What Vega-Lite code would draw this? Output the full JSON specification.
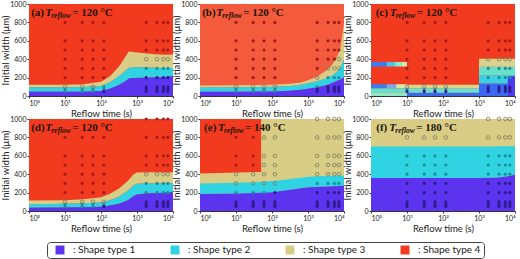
{
  "$schema": "https://vega.github.io/schema/vega-lite/v6.json",
  "background": "white",
  "padding": {"left": 0, "top": 0, "right": 0, "bottom": 0},
  "data": {"values": [{}]},
  "datasets": {
    "bandsA": [
      {"t": 1, "P": 45, "C": 95, "K": 122},
      {"t": 10, "P": 45, "C": 96, "K": 123},
      {"t": 31.6, "P": 47, "C": 98, "K": 127},
      {"t": 100, "P": 55, "C": 110, "K": 155},
      {"t": 177.8, "P": 78, "C": 150, "K": 215},
      {"t": 316.2, "P": 120, "C": 215, "K": 320},
      {"t": 446.7, "P": 155, "C": 265, "K": 410},
      {"t": 562.3, "P": 180, "C": 295, "K": 470},
      {"t": 588.8, "P": 190, "C": 305, "K": 485},
      {"t": 794.3, "P": 197, "C": 312, "K": 478},
      {"t": 1585, "P": 198, "C": 312, "K": 465},
      {"t": 3162, "P": 200, "C": 308, "K": 455},
      {"t": 6310, "P": 206, "C": 305, "K": 448},
      {"t": 10000, "P": 215, "C": 305, "K": 452}
    ],
    "bandsB": [
      {"t": 1, "P": 45, "C": 92, "K": 115},
      {"t": 10, "P": 46, "C": 94, "K": 117},
      {"t": 100, "P": 50, "C": 100, "K": 122},
      {"t": 316.2, "P": 58, "C": 108, "K": 132},
      {"t": 631, "P": 68, "C": 122, "K": 148},
      {"t": 1000, "P": 78, "C": 138, "K": 170},
      {"t": 1778, "P": 95, "C": 160, "K": 210},
      {"t": 3162, "P": 118, "C": 190, "K": 275},
      {"t": 4467, "P": 138, "C": 218, "K": 330},
      {"t": 6310, "P": 162, "C": 262, "K": 420},
      {"t": 7943, "P": 180, "C": 310, "K": 520},
      {"t": 10000, "P": 205, "C": 400, "K": 790}
    ],
    "cellsC": [
      {"x1": 1, "x2": 2.75, "lo": 320, "hi": 370, "s": "c_blue"},
      {"x1": 2.75, "x2": 4.68, "lo": 320, "hi": 370, "s": "c_teal"},
      {"x1": 4.68, "x2": 7.2, "lo": 320, "hi": 370, "s": "c_aqua"},
      {"x1": 7.2, "x2": 10, "lo": 320, "hi": 370, "s": "c_pale"},
      {"x1": 1, "x2": 10, "lo": 0, "hi": 40, "s": "c_aqua"},
      {"x1": 1, "x2": 10, "lo": 40, "hi": 85, "s": "c_aq2"},
      {"x1": 1, "x2": 2.75, "lo": 85, "hi": 128, "s": "c_blue"},
      {"x1": 2.75, "x2": 5, "lo": 85, "hi": 128, "s": "c_lb"},
      {"x1": 5, "x2": 10, "lo": 85, "hi": 128, "s": "c_pale"},
      {"x1": 10, "x2": 1000, "lo": 0, "hi": 36, "s": "c_royal"},
      {"x1": 10, "x2": 1000, "lo": 36, "hi": 85, "s": "c_aq2"},
      {"x1": 10, "x2": 1000, "lo": 85, "hi": 122, "s": "c_kh"},
      {"x1": 1000, "x2": 10000, "lo": 0, "hi": 135, "s": "c_royal"},
      {"x1": 1000, "x2": 10000, "lo": 135, "hi": 225, "s": "c_cyan"},
      {"x1": 1000, "x2": 10000, "lo": 225, "hi": 318, "s": "c_aq2"},
      {"x1": 1000, "x2": 10000, "lo": 318, "hi": 405, "s": "c_kh"},
      {"x1": 6300, "x2": 10000, "lo": 0, "hi": 215, "s": "c_deep"}
    ],
    "bandsD": [
      {"t": 1, "P": 36, "C": 73, "K": 113},
      {"t": 10, "P": 38, "C": 78, "K": 118},
      {"t": 31.6, "P": 42, "C": 84, "K": 128},
      {"t": 100, "P": 47, "C": 93, "K": 150},
      {"t": 177.8, "P": 60, "C": 118, "K": 188},
      {"t": 316.2, "P": 80, "C": 155, "K": 245},
      {"t": 562.3, "P": 118, "C": 222, "K": 330},
      {"t": 794.3, "P": 160, "C": 278, "K": 398},
      {"t": 1000, "P": 180, "C": 296, "K": 418},
      {"t": 1778, "P": 190, "C": 300, "K": 420},
      {"t": 3162, "P": 194, "C": 300, "K": 420},
      {"t": 10000, "P": 205, "C": 302, "K": 420}
    ],
    "bandsE": [
      {"t": 1, "P": 185, "C": 300},
      {"t": 10, "P": 190, "C": 306},
      {"t": 31.6, "P": 195, "C": 312},
      {"t": 100, "P": 205, "C": 325},
      {"t": 177.8, "P": 218, "C": 335},
      {"t": 316.2, "P": 232, "C": 348},
      {"t": 631, "P": 248, "C": 362},
      {"t": 1000, "P": 258, "C": 372},
      {"t": 1778, "P": 262, "C": 378},
      {"t": 3162, "P": 266, "C": 381},
      {"t": 10000, "P": 275, "C": 386}
    ],
    "redE": [
      {"t": 1, "lo": 408, "hi": 1000},
      {"t": 50, "lo": 425, "hi": 1000}
    ],
    "bandsF": [
      {"t": 1, "P": 358, "C": 700},
      {"t": 1000, "P": 360, "C": 700},
      {"t": 2512, "P": 362, "C": 702},
      {"t": 3981, "P": 366, "C": 703},
      {"t": 7079, "P": 380, "C": 704},
      {"t": 10000, "P": 398, "C": 705}
    ],
    "dotsA": [
      {"t":10,"w":800,"k":"r"},{"t":10,"w":600,"k":"r"},{"t":10,"w":500,"k":"r"},{"t":10,"w":400,"k":"r"},{"t":10,"w":300,"k":"r"},{"t":10,"w":200,"k":"r"},{"t":10,"w":100,"k":"h"},{"t":10,"w":75,"k":"c"},{"t":10,"w":50,"k":"c"},
      {"t":30,"w":800,"k":"r"},{"t":30,"w":600,"k":"r"},{"t":30,"w":500,"k":"r"},{"t":30,"w":400,"k":"r"},{"t":30,"w":300,"k":"r"},{"t":30,"w":200,"k":"r"},{"t":30,"w":100,"k":"h"},{"t":30,"w":75,"k":"c"},{"t":30,"w":50,"k":"c"},
      {"t":60,"w":800,"k":"r"},{"t":60,"w":600,"k":"r"},{"t":60,"w":500,"k":"r"},{"t":60,"w":400,"k":"r"},{"t":60,"w":300,"k":"r"},{"t":60,"w":200,"k":"r"},{"t":60,"w":100,"k":"h"},{"t":60,"w":75,"k":"c"},{"t":60,"w":50,"k":"c"},
      {"t":120,"w":800,"k":"r"},{"t":120,"w":600,"k":"r"},{"t":120,"w":500,"k":"r"},{"t":120,"w":400,"k":"r"},{"t":120,"w":300,"k":"r"},{"t":120,"w":200,"k":"r"},{"t":120,"w":100,"k":"c"},{"t":120,"w":75,"k":"c"},{"t":120,"w":50,"k":"p"},
      {"t":1800,"w":800,"k":"r"},{"t":1800,"w":600,"k":"r"},{"t":1800,"w":500,"k":"r"},{"t":1800,"w":400,"k":"h"},{"t":1800,"w":300,"k":"c"},{"t":1800,"w":200,"k":"p"},{"t":1800,"w":100,"k":"p"},{"t":1800,"w":75,"k":"p"},{"t":1800,"w":50,"k":"p"},
      {"t":3600,"w":800,"k":"r"},{"t":3600,"w":600,"k":"r"},{"t":3600,"w":500,"k":"r"},{"t":3600,"w":400,"k":"h"},{"t":3600,"w":300,"k":"c"},{"t":3600,"w":200,"k":"p"},{"t":3600,"w":100,"k":"p"},{"t":3600,"w":75,"k":"p"},{"t":3600,"w":50,"k":"p"},
      {"t":5400,"w":800,"k":"r"},{"t":5400,"w":600,"k":"r"},{"t":5400,"w":500,"k":"r"},{"t":5400,"w":400,"k":"h"},{"t":5400,"w":300,"k":"c"},{"t":5400,"w":200,"k":"p"},{"t":5400,"w":100,"k":"p"},{"t":5400,"w":75,"k":"p"},{"t":5400,"w":50,"k":"p"},
      {"t":7200,"w":800,"k":"r"},{"t":7200,"w":600,"k":"r"},{"t":7200,"w":500,"k":"r"},{"t":7200,"w":400,"k":"h"},{"t":7200,"w":300,"k":"c"},{"t":7200,"w":200,"k":"p"},{"t":7200,"w":100,"k":"p"},{"t":7200,"w":75,"k":"p"},{"t":7200,"w":50,"k":"p"}
    ],
    "dotsB": [
      {"t":10,"w":800,"k":"r"},{"t":10,"w":600,"k":"r"},{"t":10,"w":500,"k":"r"},{"t":10,"w":400,"k":"r"},{"t":10,"w":300,"k":"r"},{"t":10,"w":200,"k":"r"},{"t":10,"w":100,"k":"h"},{"t":10,"w":75,"k":"c"},{"t":10,"w":50,"k":"c"},
      {"t":30,"w":800,"k":"r"},{"t":30,"w":600,"k":"r"},{"t":30,"w":500,"k":"r"},{"t":30,"w":400,"k":"r"},{"t":30,"w":300,"k":"r"},{"t":30,"w":200,"k":"r"},{"t":30,"w":100,"k":"h"},{"t":30,"w":75,"k":"c"},{"t":30,"w":50,"k":"c"},
      {"t":60,"w":800,"k":"r"},{"t":60,"w":600,"k":"r"},{"t":60,"w":500,"k":"r"},{"t":60,"w":400,"k":"r"},{"t":60,"w":300,"k":"r"},{"t":60,"w":200,"k":"r"},{"t":60,"w":100,"k":"h"},{"t":60,"w":75,"k":"c"},{"t":60,"w":50,"k":"c"},
      {"t":120,"w":800,"k":"r"},{"t":120,"w":600,"k":"r"},{"t":120,"w":500,"k":"r"},{"t":120,"w":400,"k":"r"},{"t":120,"w":300,"k":"r"},{"t":120,"w":200,"k":"r"},{"t":120,"w":100,"k":"h"},{"t":120,"w":75,"k":"c"},{"t":120,"w":50,"k":"c"},
      {"t":1800,"w":800,"k":"r"},{"t":1800,"w":600,"k":"r"},{"t":1800,"w":500,"k":"r"},{"t":1800,"w":400,"k":"r"},{"t":1800,"w":300,"k":"r"},{"t":1800,"w":200,"k":"h"},{"t":1800,"w":100,"k":"c"},{"t":1800,"w":75,"k":"p"},{"t":1800,"w":50,"k":"p"},
      {"t":3600,"w":800,"k":"r"},{"t":3600,"w":600,"k":"r"},{"t":3600,"w":500,"k":"r"},{"t":3600,"w":400,"k":"r"},{"t":3600,"w":300,"k":"h"},{"t":3600,"w":200,"k":"c"},{"t":3600,"w":100,"k":"p"},{"t":3600,"w":75,"k":"p"},{"t":3600,"w":50,"k":"p"},
      {"t":5400,"w":800,"k":"r"},{"t":5400,"w":600,"k":"r"},{"t":5400,"w":500,"k":"r"},{"t":5400,"w":400,"k":"r"},{"t":5400,"w":300,"k":"h"},{"t":5400,"w":200,"k":"c"},{"t":5400,"w":100,"k":"p"},{"t":5400,"w":75,"k":"p"},{"t":5400,"w":50,"k":"p"},
      {"t":7200,"w":800,"k":"r"},{"t":7200,"w":600,"k":"r"},{"t":7200,"w":500,"k":"r"},{"t":7200,"w":400,"k":"h"},{"t":7200,"w":300,"k":"h"},{"t":7200,"w":200,"k":"c"},{"t":7200,"w":100,"k":"p"},{"t":7200,"w":75,"k":"p"},{"t":7200,"w":50,"k":"p"}
    ],
    "dotsC": [
      {"t":10,"w":800,"k":"r"},{"t":10,"w":600,"k":"r"},{"t":10,"w":500,"k":"r"},{"t":10,"w":400,"k":"r"},{"t":10,"w":300,"k":"r"},{"t":10,"w":200,"k":"r"},{"t":10,"w":100,"k":"h"},{"t":10,"w":75,"k":"c"},{"t":10,"w":50,"k":"p"},
      {"t":30,"w":800,"k":"r"},{"t":30,"w":600,"k":"r"},{"t":30,"w":500,"k":"r"},{"t":30,"w":400,"k":"r"},{"t":30,"w":300,"k":"r"},{"t":30,"w":200,"k":"r"},{"t":30,"w":100,"k":"h"},{"t":30,"w":75,"k":"c"},{"t":30,"w":50,"k":"p"},
      {"t":60,"w":800,"k":"r"},{"t":60,"w":600,"k":"r"},{"t":60,"w":500,"k":"r"},{"t":60,"w":400,"k":"r"},{"t":60,"w":300,"k":"r"},{"t":60,"w":200,"k":"r"},{"t":60,"w":100,"k":"h"},{"t":60,"w":75,"k":"c"},{"t":60,"w":50,"k":"p"},
      {"t":120,"w":800,"k":"r"},{"t":120,"w":600,"k":"r"},{"t":120,"w":500,"k":"r"},{"t":120,"w":400,"k":"r"},{"t":120,"w":300,"k":"r"},{"t":120,"w":200,"k":"r"},{"t":120,"w":100,"k":"h"},{"t":120,"w":75,"k":"c"},{"t":120,"w":50,"k":"p"},
      {"t":1800,"w":800,"k":"r"},{"t":1800,"w":600,"k":"r"},{"t":1800,"w":500,"k":"r"},{"t":1800,"w":400,"k":"h"},{"t":1800,"w":300,"k":"c"},{"t":1800,"w":200,"k":"c"},{"t":1800,"w":100,"k":"p"},{"t":1800,"w":75,"k":"p"},{"t":1800,"w":50,"k":"p"},
      {"t":3600,"w":800,"k":"r"},{"t":3600,"w":600,"k":"r"},{"t":3600,"w":500,"k":"r"},{"t":3600,"w":400,"k":"h"},{"t":3600,"w":300,"k":"c"},{"t":3600,"w":200,"k":"c"},{"t":3600,"w":100,"k":"p"},{"t":3600,"w":75,"k":"p"},{"t":3600,"w":50,"k":"p"},
      {"t":5400,"w":800,"k":"r"},{"t":5400,"w":600,"k":"r"},{"t":5400,"w":500,"k":"r"},{"t":5400,"w":400,"k":"h"},{"t":5400,"w":300,"k":"c"},{"t":5400,"w":200,"k":"c"},{"t":5400,"w":100,"k":"p"},{"t":5400,"w":75,"k":"p"},{"t":5400,"w":50,"k":"p"},
      {"t":7200,"w":800,"k":"r"},{"t":7200,"w":600,"k":"r"},{"t":7200,"w":500,"k":"r"},{"t":7200,"w":400,"k":"h"},{"t":7200,"w":300,"k":"c"},{"t":7200,"w":200,"k":"c"},{"t":7200,"w":100,"k":"p"},{"t":7200,"w":75,"k":"p"},{"t":7200,"w":50,"k":"p"}
    ],
    "dotsD": [
      {"t":10,"w":800,"k":"r"},{"t":10,"w":600,"k":"r"},{"t":10,"w":500,"k":"r"},{"t":10,"w":400,"k":"r"},{"t":10,"w":300,"k":"r"},{"t":10,"w":200,"k":"r"},{"t":10,"w":100,"k":"h"},{"t":10,"w":75,"k":"c"},{"t":10,"w":50,"k":"c"},
      {"t":30,"w":800,"k":"r"},{"t":30,"w":600,"k":"r"},{"t":30,"w":500,"k":"r"},{"t":30,"w":400,"k":"r"},{"t":30,"w":300,"k":"r"},{"t":30,"w":200,"k":"r"},{"t":30,"w":100,"k":"h"},{"t":30,"w":75,"k":"c"},{"t":30,"w":50,"k":"c"},
      {"t":60,"w":800,"k":"r"},{"t":60,"w":600,"k":"r"},{"t":60,"w":500,"k":"r"},{"t":60,"w":400,"k":"r"},{"t":60,"w":300,"k":"r"},{"t":60,"w":200,"k":"r"},{"t":60,"w":100,"k":"h"},{"t":60,"w":75,"k":"c"},{"t":60,"w":50,"k":"c"},
      {"t":120,"w":800,"k":"r"},{"t":120,"w":600,"k":"r"},{"t":120,"w":500,"k":"r"},{"t":120,"w":400,"k":"r"},{"t":120,"w":300,"k":"r"},{"t":120,"w":200,"k":"r"},{"t":120,"w":100,"k":"h"},{"t":120,"w":75,"k":"c"},{"t":120,"w":50,"k":"p"},
      {"t":1800,"w":1000,"k":"r"},{"t":1800,"w":800,"k":"r"},{"t":1800,"w":600,"k":"r"},{"t":1800,"w":500,"k":"r"},{"t":1800,"w":400,"k":"h"},{"t":1800,"w":300,"k":"c"},{"t":1800,"w":200,"k":"c"},{"t":1800,"w":100,"k":"p"},{"t":1800,"w":75,"k":"p"},{"t":1800,"w":50,"k":"p"},
      {"t":3600,"w":1000,"k":"r"},{"t":3600,"w":800,"k":"r"},{"t":3600,"w":600,"k":"r"},{"t":3600,"w":500,"k":"r"},{"t":3600,"w":400,"k":"h"},{"t":3600,"w":300,"k":"c"},{"t":3600,"w":200,"k":"c"},{"t":3600,"w":100,"k":"p"},{"t":3600,"w":75,"k":"p"},{"t":3600,"w":50,"k":"p"},
      {"t":5400,"w":1000,"k":"r"},{"t":5400,"w":800,"k":"r"},{"t":5400,"w":600,"k":"r"},{"t":5400,"w":500,"k":"r"},{"t":5400,"w":400,"k":"h"},{"t":5400,"w":300,"k":"c"},{"t":5400,"w":200,"k":"c"},{"t":5400,"w":100,"k":"p"},{"t":5400,"w":75,"k":"p"},{"t":5400,"w":50,"k":"p"},
      {"t":7200,"w":1000,"k":"r"},{"t":7200,"w":800,"k":"r"},{"t":7200,"w":600,"k":"r"},{"t":7200,"w":500,"k":"r"},{"t":7200,"w":400,"k":"h"},{"t":7200,"w":300,"k":"c"},{"t":7200,"w":200,"k":"c"},{"t":7200,"w":100,"k":"p"},{"t":7200,"w":75,"k":"p"},{"t":7200,"w":50,"k":"p"}
    ],
    "dotsE": [
      {"t":10,"w":800,"k":"r"},{"t":10,"w":600,"k":"r"},{"t":10,"w":500,"k":"r"},{"t":10,"w":400,"k":"h"},{"t":10,"w":300,"k":"h"},{"t":10,"w":200,"k":"c"},{"t":10,"w":100,"k":"p"},{"t":10,"w":75,"k":"p"},{"t":10,"w":50,"k":"p"},
      {"t":30,"w":800,"k":"r"},{"t":30,"w":600,"k":"r"},{"t":30,"w":500,"k":"r"},{"t":30,"w":400,"k":"h"},{"t":30,"w":300,"k":"h"},{"t":30,"w":200,"k":"c"},{"t":30,"w":100,"k":"p"},{"t":30,"w":75,"k":"p"},{"t":30,"w":50,"k":"p"},
      {"t":60,"w":800,"k":"h"},{"t":60,"w":600,"k":"h"},{"t":60,"w":500,"k":"h"},{"t":60,"w":400,"k":"h"},{"t":60,"w":300,"k":"h"},{"t":60,"w":200,"k":"c"},{"t":60,"w":100,"k":"p"},{"t":60,"w":75,"k":"p"},{"t":60,"w":50,"k":"p"},
      {"t":120,"w":800,"k":"h"},{"t":120,"w":600,"k":"h"},{"t":120,"w":500,"k":"h"},{"t":120,"w":400,"k":"h"},{"t":120,"w":300,"k":"h"},{"t":120,"w":200,"k":"p"},{"t":120,"w":100,"k":"p"},{"t":120,"w":75,"k":"p"},{"t":120,"w":50,"k":"p"},
      {"t":1800,"w":1000,"k":"h"},{"t":1800,"w":800,"k":"h"},{"t":1800,"w":600,"k":"h"},{"t":1800,"w":500,"k":"h"},{"t":1800,"w":400,"k":"h"},{"t":1800,"w":300,"k":"c"},{"t":1800,"w":200,"k":"p"},{"t":1800,"w":100,"k":"p"},{"t":1800,"w":75,"k":"p"},{"t":1800,"w":50,"k":"p"},
      {"t":3600,"w":1000,"k":"h"},{"t":3600,"w":800,"k":"h"},{"t":3600,"w":600,"k":"h"},{"t":3600,"w":500,"k":"h"},{"t":3600,"w":400,"k":"h"},{"t":3600,"w":300,"k":"c"},{"t":3600,"w":200,"k":"p"},{"t":3600,"w":100,"k":"p"},{"t":3600,"w":75,"k":"p"},{"t":3600,"w":50,"k":"p"},
      {"t":5400,"w":1000,"k":"h"},{"t":5400,"w":800,"k":"h"},{"t":5400,"w":600,"k":"h"},{"t":5400,"w":500,"k":"h"},{"t":5400,"w":400,"k":"h"},{"t":5400,"w":300,"k":"c"},{"t":5400,"w":200,"k":"p"},{"t":5400,"w":100,"k":"p"},{"t":5400,"w":75,"k":"p"},{"t":5400,"w":50,"k":"p"},
      {"t":7200,"w":1000,"k":"h"},{"t":7200,"w":800,"k":"h"},{"t":7200,"w":600,"k":"h"},{"t":7200,"w":500,"k":"h"},{"t":7200,"w":400,"k":"h"},{"t":7200,"w":300,"k":"c"},{"t":7200,"w":200,"k":"p"},{"t":7200,"w":100,"k":"p"},{"t":7200,"w":75,"k":"p"},{"t":7200,"w":50,"k":"p"}
    ],
    "dotsF": [
      {"t":10,"w":800,"k":"h"},{"t":10,"w":600,"k":"c"},{"t":10,"w":500,"k":"c"},{"t":10,"w":400,"k":"c"},{"t":10,"w":300,"k":"p"},{"t":10,"w":200,"k":"p"},{"t":10,"w":100,"k":"p"},{"t":10,"w":75,"k":"p"},{"t":10,"w":50,"k":"p"},
      {"t":30,"w":800,"k":"h"},{"t":30,"w":600,"k":"c"},{"t":30,"w":500,"k":"c"},{"t":30,"w":400,"k":"c"},{"t":30,"w":300,"k":"p"},{"t":30,"w":200,"k":"p"},{"t":30,"w":100,"k":"p"},{"t":30,"w":75,"k":"p"},{"t":30,"w":50,"k":"p"},
      {"t":60,"w":800,"k":"h"},{"t":60,"w":600,"k":"c"},{"t":60,"w":500,"k":"c"},{"t":60,"w":400,"k":"c"},{"t":60,"w":300,"k":"p"},{"t":60,"w":200,"k":"p"},{"t":60,"w":100,"k":"p"},{"t":60,"w":75,"k":"p"},{"t":60,"w":50,"k":"p"},
      {"t":120,"w":800,"k":"h"},{"t":120,"w":600,"k":"c"},{"t":120,"w":500,"k":"c"},{"t":120,"w":400,"k":"c"},{"t":120,"w":300,"k":"p"},{"t":120,"w":200,"k":"p"},{"t":120,"w":100,"k":"p"},{"t":120,"w":75,"k":"p"},{"t":120,"w":50,"k":"p"},
      {"t":1800,"w":1000,"k":"h"},{"t":1800,"w":800,"k":"h"},{"t":1800,"w":600,"k":"c"},{"t":1800,"w":500,"k":"c"},{"t":1800,"w":400,"k":"c"},{"t":1800,"w":300,"k":"p"},{"t":1800,"w":200,"k":"p"},{"t":1800,"w":100,"k":"p"},{"t":1800,"w":75,"k":"p"},{"t":1800,"w":50,"k":"p"},
      {"t":3600,"w":1000,"k":"h"},{"t":3600,"w":800,"k":"h"},{"t":3600,"w":600,"k":"c"},{"t":3600,"w":500,"k":"c"},{"t":3600,"w":400,"k":"c"},{"t":3600,"w":300,"k":"p"},{"t":3600,"w":200,"k":"p"},{"t":3600,"w":100,"k":"p"},{"t":3600,"w":75,"k":"p"},{"t":3600,"w":50,"k":"p"},
      {"t":5400,"w":1000,"k":"h"},{"t":5400,"w":800,"k":"h"},{"t":5400,"w":600,"k":"c"},{"t":5400,"w":500,"k":"c"},{"t":5400,"w":400,"k":"c"},{"t":5400,"w":300,"k":"p"},{"t":5400,"w":200,"k":"p"},{"t":5400,"w":100,"k":"p"},{"t":5400,"w":75,"k":"p"},{"t":5400,"w":50,"k":"p"},
      {"t":7200,"w":1000,"k":"h"},{"t":7200,"w":800,"k":"h"},{"t":7200,"w":600,"k":"c"},{"t":7200,"w":500,"k":"c"},{"t":7200,"w":400,"k":"c"},{"t":7200,"w":300,"k":"p"},{"t":7200,"w":200,"k":"p"},{"t":7200,"w":100,"k":"p"},{"t":7200,"w":75,"k":"p"},{"t":7200,"w":50,"k":"p"}
    ]
  },
  "bounds": "flush",
  "columns": 3,
  "spacing": {"row": 23, "column": 27},
  "concat": [
    {
      "width": 144, "height": 92,
      "layer": [
        {"mark": {"type": "rect"},
         "encoding": {
           "x": {"datum": 1, "type": "quantitative", "scale": {"type": "log", "domain": [1, 10000]}, "axis": {"title": "Reflow time (s)", "values": [1, 10, 100, 1000, 10000], "labelExpr": "'10' + ['⁰','¹','²','³','⁴'][round(log(datum.value)/LN10)]"}},
           "x2": {"datum": 10000},
           "y": {"datum": 0, "type": "quantitative", "scale": {"domain": [0, 1000], "nice": false}, "axis": {"title": "Initial width (μm)", "values": [0, 200, 400, 600, 800, 1000], "tickCount": 6, "format": "d", "labelOverlap": false}},
           "y2": {"datum": 1000},
           "color": {"datum": "Shape type 4", "type": "nominal",
             "scale": {
               "domain": ["Shape type 1", "Shape type 2", "Shape type 3", "Shape type 4", "b4", "c_blue", "c_teal", "c_aqua", "c_pale", "c_lb", "c_aq2", "c_kh", "c_royal", "c_cyan", "c_deep", "r", "c", "p"],
               "range": ["#5c34f0", "#2fd3e2", "#d9cd85", "#f23b1e", "#f45a3c", "#3d7cf0", "#4cc4e0", "#8ce8c8", "#dde6a6", "#7aa8ec", "#66e2cc", "#d8d48e", "#3a68f0", "#3cd0e4", "#4a3cf0", "#a31a1e", "#17909e", "#2d1c8c"]
             },
             "legend": {"values": ["Shape type 1", "Shape type 2", "Shape type 3", "Shape type 4"], "title": null, "labelExpr": "': ' + datum.label"}}
         }},
        {"data": {"name": "bandsA"}, "mark": {"type": "area"}, "encoding": {"x": {"field": "t", "type": "quantitative"}, "y": {"field": "K", "type": "quantitative"}, "y2": {"field": "C"}, "color": {"datum": "Shape type 3", "type": "nominal"}}},
        {"data": {"name": "bandsA"}, "mark": {"type": "area"}, "encoding": {"x": {"field": "t", "type": "quantitative"}, "y": {"field": "C", "type": "quantitative"}, "y2": {"field": "P"}, "color": {"datum": "Shape type 2", "type": "nominal"}}},
        {"data": {"name": "bandsA"}, "mark": {"type": "area"}, "encoding": {"x": {"field": "t", "type": "quantitative"}, "y": {"field": "P", "type": "quantitative"}, "y2": {"datum": 0}, "color": {"datum": "Shape type 1", "type": "nominal"}}},
        {"data": {"name": "dotsA"}, "transform": [{"filter": "datum.k != 'h'"}], "mark": {"type": "point", "filled": true, "size": 10, "opacity": 1}, "encoding": {"x": {"field": "t", "type": "quantitative"}, "y": {"field": "w", "type": "quantitative"}, "color": {"field": "k", "type": "nominal", "legend": {"values": ["Shape type 1", "Shape type 2", "Shape type 3", "Shape type 4"], "title": null, "labelExpr": "': ' + datum.label"}}}},
        {"data": {"name": "dotsA"}, "transform": [{"filter": "datum.k == 'h'"}], "mark": {"type": "point", "filled": false, "size": 13, "strokeWidth": 0.8, "color": "#7a7862", "opacity": 1}, "encoding": {"x": {"field": "t", "type": "quantitative"}, "y": {"field": "w", "type": "quantitative"}}},
        {"mark": {"type": "text", "text": "(a)", "font": "Liberation Serif", "fontWeight": "bold", "fontSize": 11, "align": "left", "color": "#22140a"}, "encoding": {"x": {"datum": 1.15, "type": "quantitative"}, "y": {"datum": 900, "type": "quantitative"}}},
        {"mark": {"type": "text", "text": "T", "font": "Liberation Serif", "fontWeight": "bold", "fontStyle": "italic", "fontSize": 11, "align": "left", "dx": 14, "color": "#22140a"}, "encoding": {"x": {"datum": 1.15, "type": "quantitative"}, "y": {"datum": 900, "type": "quantitative"}}},
        {"mark": {"type": "text", "text": "reflow", "font": "Liberation Serif", "fontWeight": "bold", "fontStyle": "italic", "fontSize": 7.5, "align": "left", "dx": 20, "dy": 2.5, "color": "#22140a"}, "encoding": {"x": {"datum": 1.15, "type": "quantitative"}, "y": {"datum": 900, "type": "quantitative"}}},
        {"mark": {"type": "text", "text": "= 120 °C", "font": "Liberation Serif", "fontWeight": "bold", "fontSize": 11, "align": "left", "dx": 41, "color": "#22140a"}, "encoding": {"x": {"datum": 1.15, "type": "quantitative"}, "y": {"datum": 900, "type": "quantitative"}}}
      ]
    },
    {
      "width": 144, "height": 92,
      "layer": [
        {"mark": {"type": "rect"},
         "encoding": {
           "x": {"datum": 1, "type": "quantitative", "scale": {"type": "log", "domain": [1, 10000]}, "axis": {"title": "Reflow time (s)", "values": [1, 10, 100, 1000, 10000], "labelExpr": "'10' + ['⁰','¹','²','³','⁴'][round(log(datum.value)/LN10)]"}},
           "x2": {"datum": 10000},
           "y": {"datum": 0, "type": "quantitative", "scale": {"domain": [0, 1000], "nice": false}, "axis": {"title": "Initial width (μm)", "values": [0, 200, 400, 600, 800, 1000], "tickCount": 6, "format": "d", "labelOverlap": false}},
           "y2": {"datum": 1000},
           "color": {"datum": "b4", "type": "nominal"}
         }},
        {"data": {"name": "bandsB"}, "mark": {"type": "area"}, "encoding": {"x": {"field": "t", "type": "quantitative"}, "y": {"field": "K", "type": "quantitative"}, "y2": {"field": "C"}, "color": {"datum": "Shape type 3", "type": "nominal"}}},
        {"data": {"name": "bandsB"}, "mark": {"type": "area"}, "encoding": {"x": {"field": "t", "type": "quantitative"}, "y": {"field": "C", "type": "quantitative"}, "y2": {"field": "P"}, "color": {"datum": "Shape type 2", "type": "nominal"}}},
        {"data": {"name": "bandsB"}, "mark": {"type": "area"}, "encoding": {"x": {"field": "t", "type": "quantitative"}, "y": {"field": "P", "type": "quantitative"}, "y2": {"datum": 0}, "color": {"datum": "Shape type 1", "type": "nominal"}}},
        {"data": {"name": "dotsB"}, "transform": [{"filter": "datum.k != 'h'"}], "mark": {"type": "point", "filled": true, "size": 10, "opacity": 1}, "encoding": {"x": {"field": "t", "type": "quantitative"}, "y": {"field": "w", "type": "quantitative"}, "color": {"field": "k", "type": "nominal", "legend": {"values": ["Shape type 1", "Shape type 2", "Shape type 3", "Shape type 4"], "title": null, "labelExpr": "': ' + datum.label"}}}},
        {"data": {"name": "dotsB"}, "transform": [{"filter": "datum.k == 'h'"}], "mark": {"type": "point", "filled": false, "size": 13, "strokeWidth": 0.8, "color": "#7a7862", "opacity": 1}, "encoding": {"x": {"field": "t", "type": "quantitative"}, "y": {"field": "w", "type": "quantitative"}}},
        {"mark": {"type": "text", "text": "(b)", "font": "Liberation Serif", "fontWeight": "bold", "fontSize": 11, "align": "left", "color": "#22140a"}, "encoding": {"x": {"datum": 1.15, "type": "quantitative"}, "y": {"datum": 900, "type": "quantitative"}}},
        {"mark": {"type": "text", "text": "T", "font": "Liberation Serif", "fontWeight": "bold", "fontStyle": "italic", "fontSize": 11, "align": "left", "dx": 14, "color": "#22140a"}, "encoding": {"x": {"datum": 1.15, "type": "quantitative"}, "y": {"datum": 900, "type": "quantitative"}}},
        {"mark": {"type": "text", "text": "reflow", "font": "Liberation Serif", "fontWeight": "bold", "fontStyle": "italic", "fontSize": 7.5, "align": "left", "dx": 20, "dy": 2.5, "color": "#22140a"}, "encoding": {"x": {"datum": 1.15, "type": "quantitative"}, "y": {"datum": 900, "type": "quantitative"}}},
        {"mark": {"type": "text", "text": "= 120 °C", "font": "Liberation Serif", "fontWeight": "bold", "fontSize": 11, "align": "left", "dx": 41, "color": "#22140a"}, "encoding": {"x": {"datum": 1.15, "type": "quantitative"}, "y": {"datum": 900, "type": "quantitative"}}}
      ]
    },
    {
      "width": 144, "height": 92,
      "layer": [
        {"mark": {"type": "rect"},
         "encoding": {
           "x": {"datum": 1, "type": "quantitative", "scale": {"type": "log", "domain": [1, 10000]}, "axis": {"title": "Reflow time (s)", "values": [1, 10, 100, 1000, 10000], "labelExpr": "'10' + ['⁰','¹','²','³','⁴'][round(log(datum.value)/LN10)]"}},
           "x2": {"datum": 10000},
           "y": {"datum": 0, "type": "quantitative", "scale": {"domain": [0, 1000], "nice": false}, "axis": {"title": "Initial width (μm)", "values": [0, 200, 400, 600, 800, 1000], "tickCount": 6, "format": "d", "labelOverlap": false}},
           "y2": {"datum": 1000},
           "color": {"datum": "Shape type 4", "type": "nominal"}
         }},
        {"data": {"name": "cellsC"}, "mark": {"type": "rect"}, "encoding": {"x": {"field": "x1", "type": "quantitative"}, "x2": {"field": "x2"}, "y": {"field": "lo", "type": "quantitative"}, "y2": {"field": "hi"}, "color": {"field": "s", "type": "nominal", "legend": {"values": ["Shape type 1", "Shape type 2", "Shape type 3", "Shape type 4"], "title": null, "labelExpr": "': ' + datum.label"}}}},
        {"data": {"name": "dotsC"}, "transform": [{"filter": "datum.k != 'h'"}], "mark": {"type": "point", "filled": true, "size": 10, "opacity": 1}, "encoding": {"x": {"field": "t", "type": "quantitative"}, "y": {"field": "w", "type": "quantitative"}, "color": {"field": "k", "type": "nominal", "legend": {"values": ["Shape type 1", "Shape type 2", "Shape type 3", "Shape type 4"], "title": null, "labelExpr": "': ' + datum.label"}}}},
        {"data": {"name": "dotsC"}, "transform": [{"filter": "datum.k == 'h'"}], "mark": {"type": "point", "filled": false, "size": 13, "strokeWidth": 0.8, "color": "#7a7862", "opacity": 1}, "encoding": {"x": {"field": "t", "type": "quantitative"}, "y": {"field": "w", "type": "quantitative"}}},
        {"mark": {"type": "text", "text": "(c)", "font": "Liberation Serif", "fontWeight": "bold", "fontSize": 11, "align": "left", "color": "#22140a"}, "encoding": {"x": {"datum": 1.35, "type": "quantitative"}, "y": {"datum": 900, "type": "quantitative"}}},
        {"mark": {"type": "text", "text": "T", "font": "Liberation Serif", "fontWeight": "bold", "fontStyle": "italic", "fontSize": 11, "align": "left", "dx": 14, "color": "#22140a"}, "encoding": {"x": {"datum": 1.35, "type": "quantitative"}, "y": {"datum": 900, "type": "quantitative"}}},
        {"mark": {"type": "text", "text": "reflow", "font": "Liberation Serif", "fontWeight": "bold", "fontStyle": "italic", "fontSize": 7.5, "align": "left", "dx": 20, "dy": 2.5, "color": "#22140a"}, "encoding": {"x": {"datum": 1.35, "type": "quantitative"}, "y": {"datum": 900, "type": "quantitative"}}},
        {"mark": {"type": "text", "text": "= 120 °C", "font": "Liberation Serif", "fontWeight": "bold", "fontSize": 11, "align": "left", "dx": 41, "color": "#22140a"}, "encoding": {"x": {"datum": 1.35, "type": "quantitative"}, "y": {"datum": 900, "type": "quantitative"}}}
      ]
    },
    {
      "width": 144, "height": 92,
      "layer": [
        {"mark": {"type": "rect"},
         "encoding": {
           "x": {"datum": 1, "type": "quantitative", "scale": {"type": "log", "domain": [1, 10000]}, "axis": {"title": "Reflow time (s)", "values": [1, 10, 100, 1000, 10000], "labelExpr": "'10' + ['⁰','¹','²','³','⁴'][round(log(datum.value)/LN10)]"}},
           "x2": {"datum": 10000},
           "y": {"datum": 0, "type": "quantitative", "scale": {"domain": [0, 1000], "nice": false}, "axis": {"title": "Initial width (μm)", "values": [0, 200, 400, 600, 800, 1000], "tickCount": 6, "format": "d", "labelOverlap": false}},
           "y2": {"datum": 1000},
           "color": {"datum": "Shape type 4", "type": "nominal"}
         }},
        {"data": {"name": "bandsD"}, "mark": {"type": "area"}, "encoding": {"x": {"field": "t", "type": "quantitative"}, "y": {"field": "K", "type": "quantitative"}, "y2": {"field": "C"}, "color": {"datum": "Shape type 3", "type": "nominal"}}},
        {"data": {"name": "bandsD"}, "mark": {"type": "area"}, "encoding": {"x": {"field": "t", "type": "quantitative"}, "y": {"field": "C", "type": "quantitative"}, "y2": {"field": "P"}, "color": {"datum": "Shape type 2", "type": "nominal"}}},
        {"data": {"name": "bandsD"}, "mark": {"type": "area"}, "encoding": {"x": {"field": "t", "type": "quantitative"}, "y": {"field": "P", "type": "quantitative"}, "y2": {"datum": 0}, "color": {"datum": "Shape type 1", "type": "nominal"}}},
        {"data": {"name": "dotsD"}, "transform": [{"filter": "datum.k != 'h'"}], "mark": {"type": "point", "filled": true, "size": 10, "opacity": 1}, "encoding": {"x": {"field": "t", "type": "quantitative"}, "y": {"field": "w", "type": "quantitative"}, "color": {"field": "k", "type": "nominal", "legend": {"values": ["Shape type 1", "Shape type 2", "Shape type 3", "Shape type 4"], "title": null, "labelExpr": "': ' + datum.label"}}}},
        {"data": {"name": "dotsD"}, "transform": [{"filter": "datum.k == 'h'"}], "mark": {"type": "point", "filled": false, "size": 13, "strokeWidth": 0.8, "color": "#7a7862", "opacity": 1}, "encoding": {"x": {"field": "t", "type": "quantitative"}, "y": {"field": "w", "type": "quantitative"}}},
        {"mark": {"type": "text", "text": "(d)", "font": "Liberation Serif", "fontWeight": "bold", "fontSize": 11, "align": "left", "color": "#22140a"}, "encoding": {"x": {"datum": 1.15, "type": "quantitative"}, "y": {"datum": 900, "type": "quantitative"}}},
        {"mark": {"type": "text", "text": "T", "font": "Liberation Serif", "fontWeight": "bold", "fontStyle": "italic", "fontSize": 11, "align": "left", "dx": 14, "color": "#22140a"}, "encoding": {"x": {"datum": 1.15, "type": "quantitative"}, "y": {"datum": 900, "type": "quantitative"}}},
        {"mark": {"type": "text", "text": "reflow", "font": "Liberation Serif", "fontWeight": "bold", "fontStyle": "italic", "fontSize": 7.5, "align": "left", "dx": 20, "dy": 2.5, "color": "#22140a"}, "encoding": {"x": {"datum": 1.15, "type": "quantitative"}, "y": {"datum": 900, "type": "quantitative"}}},
        {"mark": {"type": "text", "text": "= 120 °C", "font": "Liberation Serif", "fontWeight": "bold", "fontSize": 11, "align": "left", "dx": 41, "color": "#22140a"}, "encoding": {"x": {"datum": 1.15, "type": "quantitative"}, "y": {"datum": 900, "type": "quantitative"}}}
      ]
    },
    {
      "width": 144, "height": 92,
      "layer": [
        {"mark": {"type": "rect"},
         "encoding": {
           "x": {"datum": 1, "type": "quantitative", "scale": {"type": "log", "domain": [1, 10000]}, "axis": {"title": "Reflow time (s)", "values": [1, 10, 100, 1000, 10000], "labelExpr": "'10' + ['⁰','¹','²','³','⁴'][round(log(datum.value)/LN10)]"}},
           "x2": {"datum": 10000},
           "y": {"datum": 0, "type": "quantitative", "scale": {"domain": [0, 1000], "nice": false}, "axis": {"title": "Initial width (μm)", "values": [0, 200, 400, 600, 800, 1000], "tickCount": 6, "format": "d", "labelOverlap": false}},
           "y2": {"datum": 1000},
           "color": {"datum": "Shape type 3", "type": "nominal"}
         }},
        {"data": {"name": "redE"}, "mark": {"type": "area"}, "encoding": {"x": {"field": "t", "type": "quantitative"}, "y": {"field": "lo", "type": "quantitative"}, "y2": {"field": "hi"}, "color": {"datum": "Shape type 4", "type": "nominal"}}},
        {"data": {"name": "bandsE"}, "mark": {"type": "area"}, "encoding": {"x": {"field": "t", "type": "quantitative"}, "y": {"field": "C", "type": "quantitative"}, "y2": {"field": "P"}, "color": {"datum": "Shape type 2", "type": "nominal"}}},
        {"data": {"name": "bandsE"}, "mark": {"type": "area"}, "encoding": {"x": {"field": "t", "type": "quantitative"}, "y": {"field": "P", "type": "quantitative"}, "y2": {"datum": 0}, "color": {"datum": "Shape type 1", "type": "nominal"}}},
        {"data": {"name": "dotsE"}, "transform": [{"filter": "datum.k != 'h'"}], "mark": {"type": "point", "filled": true, "size": 10, "opacity": 1}, "encoding": {"x": {"field": "t", "type": "quantitative"}, "y": {"field": "w", "type": "quantitative"}, "color": {"field": "k", "type": "nominal", "legend": {"values": ["Shape type 1", "Shape type 2", "Shape type 3", "Shape type 4"], "title": null, "labelExpr": "': ' + datum.label"}}}},
        {"data": {"name": "dotsE"}, "transform": [{"filter": "datum.k == 'h'"}], "mark": {"type": "point", "filled": false, "size": 13, "strokeWidth": 0.8, "color": "#7a7862", "opacity": 1}, "encoding": {"x": {"field": "t", "type": "quantitative"}, "y": {"field": "w", "type": "quantitative"}}},
        {"mark": {"type": "text", "text": "(e)", "font": "Liberation Serif", "fontWeight": "bold", "fontSize": 11, "align": "left", "color": "#22140a"}, "encoding": {"x": {"datum": 1.3, "type": "quantitative"}, "y": {"datum": 900, "type": "quantitative"}}},
        {"mark": {"type": "text", "text": "T", "font": "Liberation Serif", "fontWeight": "bold", "fontStyle": "italic", "fontSize": 11, "align": "left", "dx": 14, "color": "#22140a"}, "encoding": {"x": {"datum": 1.3, "type": "quantitative"}, "y": {"datum": 900, "type": "quantitative"}}},
        {"mark": {"type": "text", "text": "reflow", "font": "Liberation Serif", "fontWeight": "bold", "fontStyle": "italic", "fontSize": 7.5, "align": "left", "dx": 20, "dy": 2.5, "color": "#22140a"}, "encoding": {"x": {"datum": 1.3, "type": "quantitative"}, "y": {"datum": 900, "type": "quantitative"}}},
        {"mark": {"type": "text", "text": "= 140 °C", "font": "Liberation Serif", "fontWeight": "bold", "fontSize": 11, "align": "left", "dx": 41, "color": "#22140a"}, "encoding": {"x": {"datum": 1.3, "type": "quantitative"}, "y": {"datum": 900, "type": "quantitative"}}}
      ]
    },
    {
      "width": 144, "height": 92,
      "layer": [
        {"mark": {"type": "rect"},
         "encoding": {
           "x": {"datum": 1, "type": "quantitative", "scale": {"type": "log", "domain": [1, 10000]}, "axis": {"title": "Reflow time (s)", "values": [1, 10, 100, 1000, 10000], "labelExpr": "'10' + ['⁰','¹','²','³','⁴'][round(log(datum.value)/LN10)]"}},
           "x2": {"datum": 10000},
           "y": {"datum": 0, "type": "quantitative", "scale": {"domain": [0, 1000], "nice": false}, "axis": {"title": "Initial width (μm)", "values": [0, 200, 400, 600, 800, 1000], "tickCount": 6, "format": "d", "labelOverlap": false}},
           "y2": {"datum": 1000},
           "color": {"datum": "Shape type 3", "type": "nominal"}
         }},
        {"data": {"name": "bandsF"}, "mark": {"type": "area"}, "encoding": {"x": {"field": "t", "type": "quantitative"}, "y": {"field": "C", "type": "quantitative"}, "y2": {"field": "P"}, "color": {"datum": "Shape type 2", "type": "nominal"}}},
        {"data": {"name": "bandsF"}, "mark": {"type": "area"}, "encoding": {"x": {"field": "t", "type": "quantitative"}, "y": {"field": "P", "type": "quantitative"}, "y2": {"datum": 0}, "color": {"datum": "Shape type 1", "type": "nominal"}}},
        {"data": {"name": "dotsF"}, "transform": [{"filter": "datum.k != 'h'"}], "mark": {"type": "point", "filled": true, "size": 10, "opacity": 1}, "encoding": {"x": {"field": "t", "type": "quantitative"}, "y": {"field": "w", "type": "quantitative"}, "color": {"field": "k", "type": "nominal", "legend": {"values": ["Shape type 1", "Shape type 2", "Shape type 3", "Shape type 4"], "title": null, "labelExpr": "': ' + datum.label"}}}},
        {"data": {"name": "dotsF"}, "transform": [{"filter": "datum.k == 'h'"}], "mark": {"type": "point", "filled": false, "size": 13, "strokeWidth": 0.8, "color": "#7a7862", "opacity": 1}, "encoding": {"x": {"field": "t", "type": "quantitative"}, "y": {"field": "w", "type": "quantitative"}}},
        {"mark": {"type": "text", "text": "(f)", "font": "Liberation Serif", "fontWeight": "bold", "fontSize": 11, "align": "left", "color": "#22140a"}, "encoding": {"x": {"datum": 1.4, "type": "quantitative"}, "y": {"datum": 900, "type": "quantitative"}}},
        {"mark": {"type": "text", "text": "T", "font": "Liberation Serif", "fontWeight": "bold", "fontStyle": "italic", "fontSize": 11, "align": "left", "dx": 13, "color": "#22140a"}, "encoding": {"x": {"datum": 1.4, "type": "quantitative"}, "y": {"datum": 900, "type": "quantitative"}}},
        {"mark": {"type": "text", "text": "reflow", "font": "Liberation Serif", "fontWeight": "bold", "fontStyle": "italic", "fontSize": 7.5, "align": "left", "dx": 19, "dy": 2.5, "color": "#22140a"}, "encoding": {"x": {"datum": 1.4, "type": "quantitative"}, "y": {"datum": 900, "type": "quantitative"}}},
        {"mark": {"type": "text", "text": "= 180 °C", "font": "Liberation Serif", "fontWeight": "bold", "fontSize": 11, "align": "left", "dx": 40, "color": "#22140a"}, "encoding": {"x": {"datum": 1.4, "type": "quantitative"}, "y": {"datum": 900, "type": "quantitative"}}}
      ]
    }
  ],
  "config": {
    "view": {"stroke": null},
    "axis": {
      "grid": false, "labelOverlap": false,
      "labelFont": "Lato", "labelFontSize": 7, "labelColor": "#222",
      "titleFont": "Lato", "titleFontSize": 9.5, "titleFontWeight": "normal", "titleColor": "#222",
      "domainColor": "#333", "tickColor": "#333", "tickSize": 2, "labelPadding": 1
    },
    "axisX": {"titlePadding": 2},
    "axisY": {"titlePadding": -1},
    "legend": {
      "orient": "none", "legendX": 18, "legendY": 238,
      "direction": "horizontal", "columns": 4,
      "symbolType": "square", "symbolSize": 80, "symbolStrokeWidth": 0, "symbolOpacity": 1,
      "labelFont": "Lato", "labelFontSize": 10, "labelColor": "#222",
      "strokeColor": "#444", "cornerRadius": 3, "padding": 3,
      "columnPadding": 29, "symbolOffset": 5, "labelOffset": 8
    }
  }
}
